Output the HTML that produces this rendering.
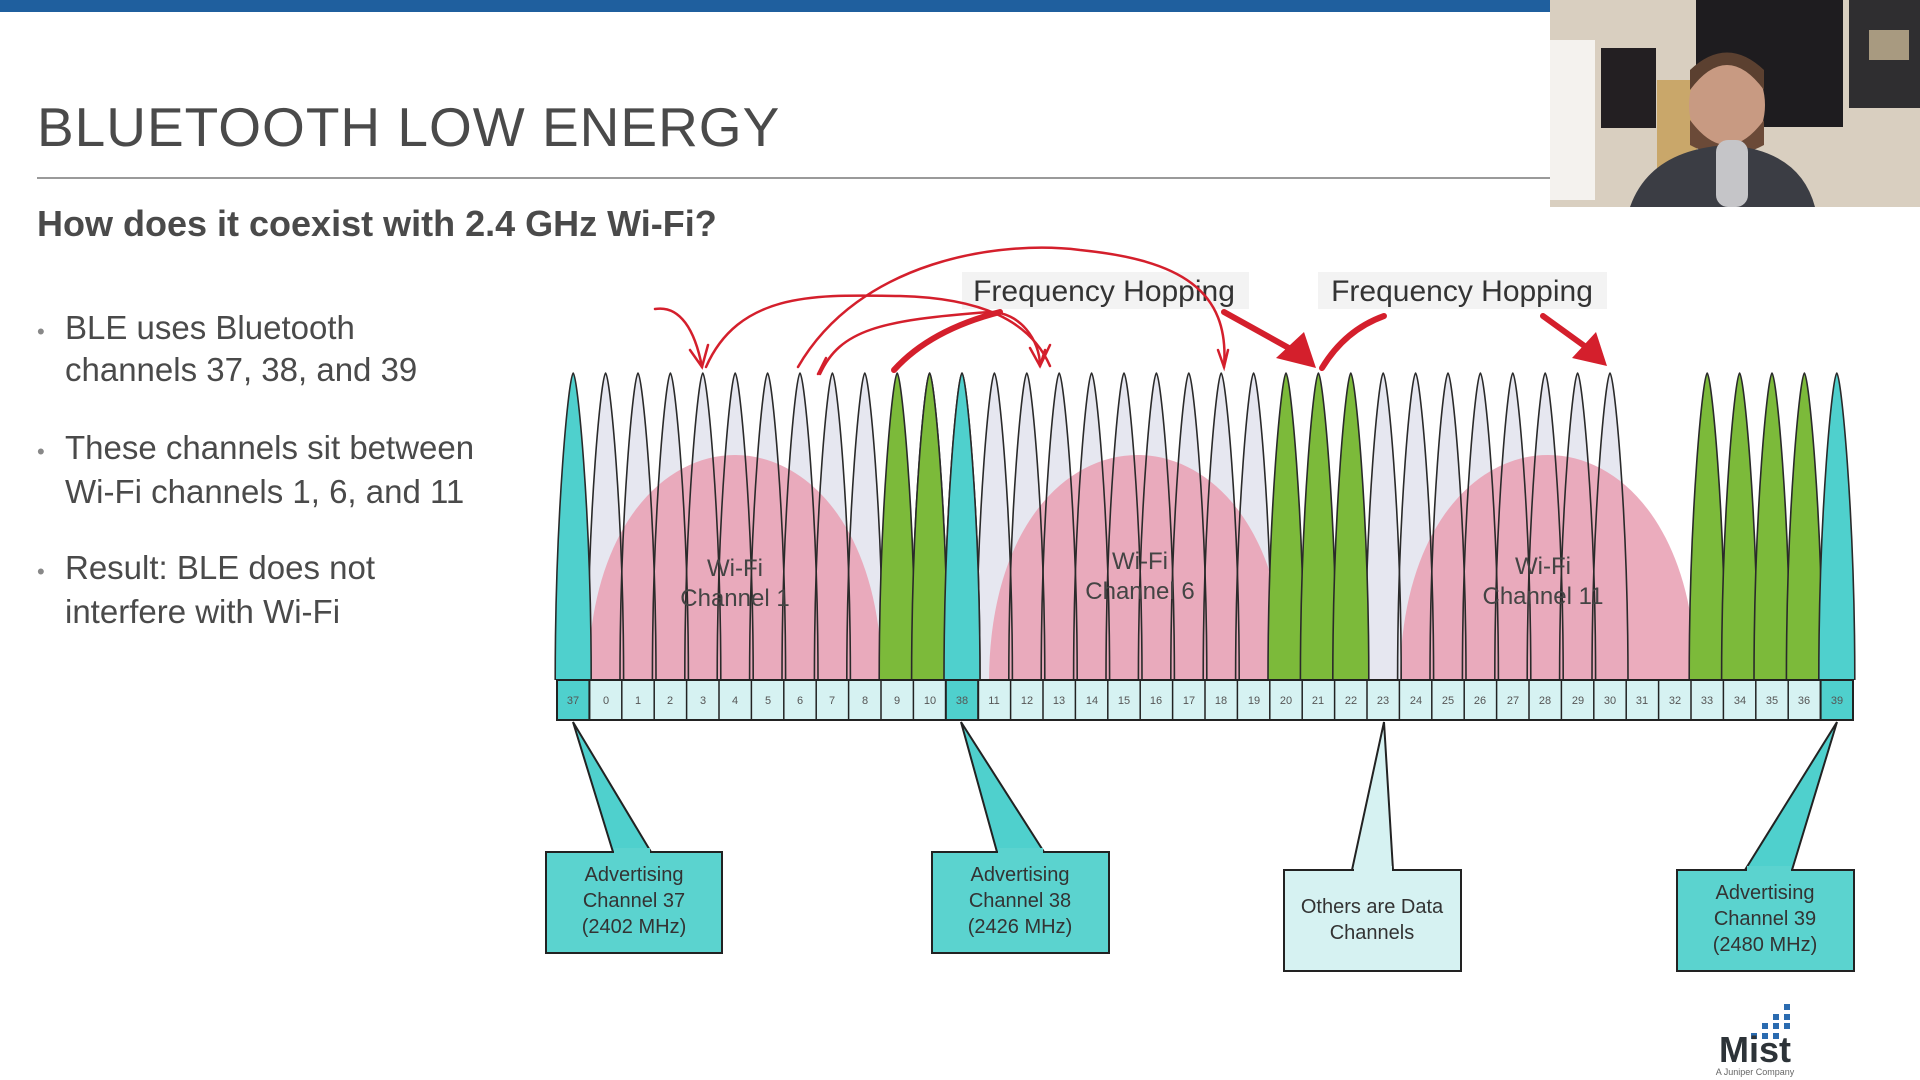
<!DOCTYPE html>
<html><head><meta charset="utf-8"><style>
html,body{margin:0;padding:0;width:1920px;height:1080px;overflow:hidden;background:#fff;font-family:"Liberation Sans",sans-serif}
</style></head><body>
<svg width="1920" height="1080" viewBox="0 0 1920 1080" xmlns="http://www.w3.org/2000/svg" style="position:absolute;left:0;top:0">
<defs>
<path id="lb" d="M-18,0 C-18,-170 -4,-307 0,-307 C4,-307 18,-170 18,0"/>
</defs>
<rect x="0" y="0" width="1550" height="12" fill="#1f5f9e"/>
<text x="37" y="146" font-size="55" fill="#4a4a4a" style="letter-spacing:1px">BLUETOOTH LOW ENERGY</text>
<rect x="37" y="177" width="1513" height="2" fill="#9a9a9a"/>
<text x="37" y="236" font-size="36" font-weight="bold" fill="#4a4a4a">How does it coexist with 2.4 GHz Wi-Fi?</text>
<g font-size="33" fill="#4a4a4a">
<text x="37" y="339" font-size="22" fill="#888">•</text><text x="65" y="339">BLE uses Bluetooth</text><text x="65" y="381">channels 37, 38, and 39</text>
<text x="37" y="459" font-size="22" fill="#888">•</text><text x="65" y="459">These channels sit between</text><text x="65" y="503">Wi-Fi channels 1, 6, and 11</text>
<text x="37" y="579" font-size="22" fill="#888">•</text><text x="65" y="579">Result: BLE does not</text><text x="65" y="623">interfere with Wi-Fi</text>
</g>
<g transform="translate(0,680)" fill="#e6e7f0" stroke="none">
<use href="#lb" x="605.6"/><use href="#lb" x="638"/><use href="#lb" x="670.4"/><use href="#lb" x="702.8"/><use href="#lb" x="735.2"/><use href="#lb" x="767.6"/><use href="#lb" x="800"/><use href="#lb" x="832.4"/><use href="#lb" x="864.8"/>
<use href="#lb" x="994.4"/><use href="#lb" x="1026.8"/><use href="#lb" x="1059.2"/><use href="#lb" x="1091.6"/><use href="#lb" x="1124"/><use href="#lb" x="1156.4"/><use href="#lb" x="1188.8"/><use href="#lb" x="1221.2"/><use href="#lb" x="1253.6"/>
<use href="#lb" x="1383.2"/><use href="#lb" x="1415.6"/><use href="#lb" x="1448"/><use href="#lb" x="1480.4"/><use href="#lb" x="1512.8"/><use href="#lb" x="1545.2"/><use href="#lb" x="1577.6"/><use href="#lb" x="1610"/><use href="#lb" x="962"/><use href="#lb" x="929.6"/>
</g>
<g fill="#e9a3b6" opacity="0.9">
<path d="M588,680 C590,380 880,380 882,680 Z"/>
<path d="M989,680 C991,380 1284,380 1286,680 Z"/>
<path d="M1400,680 C1402,380 1694,380 1696,680 Z"/>
</g>
<g transform="translate(0,680)" fill="none" stroke="#2a2a2a" stroke-width="1.6">
<use href="#lb" x="605.6"/><use href="#lb" x="638"/><use href="#lb" x="670.4"/><use href="#lb" x="702.8"/><use href="#lb" x="735.2"/><use href="#lb" x="767.6"/><use href="#lb" x="800"/><use href="#lb" x="832.4"/><use href="#lb" x="864.8"/>
<use href="#lb" x="929.6"/><use href="#lb" x="962"/><use href="#lb" x="994.4"/><use href="#lb" x="1026.8"/><use href="#lb" x="1059.2"/><use href="#lb" x="1091.6"/><use href="#lb" x="1124"/><use href="#lb" x="1156.4"/><use href="#lb" x="1188.8"/><use href="#lb" x="1221.2"/><use href="#lb" x="1253.6"/>
<use href="#lb" x="1383.2"/><use href="#lb" x="1415.6"/><use href="#lb" x="1448"/><use href="#lb" x="1480.4"/><use href="#lb" x="1512.8"/><use href="#lb" x="1545.2"/><use href="#lb" x="1577.6"/><use href="#lb" x="1610"/>
</g>
<g transform="translate(0,680)" stroke="#2a2a2a" stroke-width="1.6">
<use href="#lb" x="897.2" fill="#7cba3a"/><use href="#lb" x="929.6" fill="#7cba3a"/>
<use href="#lb" x="1286" fill="#7cba3a"/><use href="#lb" x="1318.4" fill="#7cba3a"/><use href="#lb" x="1350.8" fill="#7cba3a"/>
<use href="#lb" x="1707.2" fill="#7cba3a"/><use href="#lb" x="1739.6" fill="#7cba3a"/><use href="#lb" x="1772" fill="#7cba3a"/><use href="#lb" x="1804.4" fill="#7cba3a"/>
<use href="#lb" x="573.2" fill="#4fd0cd"/><use href="#lb" x="962" fill="#4fd0cd"/><use href="#lb" x="1836.8" fill="#4fd0cd"/>
</g>
<text x="735" y="576" font-size="24" fill="#444" text-anchor="middle">Wi-Fi</text><text x="735" y="606" font-size="24" fill="#444" text-anchor="middle">Channel 1</text>
<text x="1140" y="569" font-size="24" fill="#444" text-anchor="middle">Wi-Fi</text><text x="1140" y="599" font-size="24" fill="#444" text-anchor="middle">Channel 6</text>
<text x="1543" y="574" font-size="24" fill="#444" text-anchor="middle">Wi-Fi</text><text x="1543" y="604" font-size="24" fill="#444" text-anchor="middle">Channel 11</text>
<rect x="557" y="680" width="1296" height="40" fill="#d6f2f2" stroke="#222" stroke-width="2"/>
<rect x="557" y="680" width="32.4" height="40" fill="#4fd0cd" stroke="#222" stroke-width="2"/>
<rect x="945.8" y="680" width="32.4" height="40" fill="#4fd0cd" stroke="#222" stroke-width="2"/>
<rect x="1820.6" y="680" width="32.4" height="40" fill="#4fd0cd" stroke="#222" stroke-width="2"/>
<g stroke="#222" stroke-width="1.5">
<path d="M589.4,680v40M621.8,680v40M654.2,680v40M686.6,680v40M719,680v40M751.4,680v40M783.8,680v40M816.2,680v40M848.6,680v40M881,680v40M913.4,680v40M945.8,680v40M978.2,680v40M1010.6,680v40M1043,680v40M1075.4,680v40M1107.8,680v40M1140.2,680v40M1172.6,680v40M1205,680v40M1237.4,680v40M1269.8,680v40M1302.2,680v40M1334.6,680v40M1367,680v40M1399.4,680v40M1431.8,680v40M1464.2,680v40M1496.6,680v40M1529,680v40M1561.4,680v40M1593.8,680v40M1626.2,680v40M1658.6,680v40M1691,680v40M1723.4,680v40M1755.8,680v40M1788.2,680v40M1820.6,680v40"/>
</g>
<g font-size="11" fill="#555" text-anchor="middle">
<text x="573" y="704">37</text><text x="606" y="704">0</text><text x="638" y="704">1</text><text x="670" y="704">2</text><text x="703" y="704">3</text><text x="735" y="704">4</text><text x="768" y="704">5</text><text x="800" y="704">6</text><text x="832" y="704">7</text><text x="865" y="704">8</text><text x="897" y="704">9</text><text x="930" y="704">10</text><text x="962" y="704">38</text><text x="994" y="704">11</text><text x="1027" y="704">12</text><text x="1059" y="704">13</text><text x="1092" y="704">14</text><text x="1124" y="704">15</text><text x="1156" y="704">16</text><text x="1189" y="704">17</text><text x="1221" y="704">18</text><text x="1254" y="704">19</text><text x="1286" y="704">20</text><text x="1318" y="704">21</text><text x="1351" y="704">22</text><text x="1383" y="704">23</text><text x="1416" y="704">24</text><text x="1448" y="704">25</text><text x="1480" y="704">26</text><text x="1513" y="704">27</text><text x="1545" y="704">28</text><text x="1578" y="704">29</text><text x="1610" y="704">30</text><text x="1642" y="704">31</text><text x="1675" y="704">32</text><text x="1707" y="704">33</text><text x="1740" y="704">34</text><text x="1772" y="704">35</text><text x="1804" y="704">36</text><text x="1837" y="704">39</text>
</g>
<g stroke="#222" stroke-width="2">
<path d="M573,722 L613,852 L651,852 Z" fill="#4fd0cd"/>
<rect x="546" y="852" width="176" height="101" fill="#5bd3cf"/>
<path d="M961,722 L997,852 L1044,852 Z" fill="#4fd0cd"/>
<rect x="932" y="852" width="177" height="101" fill="#5bd3cf"/>
<path d="M1384,722 L1352,870 L1393,870 Z" fill="#d6f2f2"/>
<rect x="1284" y="870" width="177" height="101" fill="#d6f2f2"/>
<path d="M1837,722 L1745,870 L1792,870 Z" fill="#4fd0cd"/>
<rect x="1677" y="870" width="177" height="101" fill="#5bd3cf"/>
</g>
<rect x="614" y="848" width="36" height="6" fill="#5bd3cf"/><rect x="998" y="848" width="45" height="6" fill="#5bd3cf"/><rect x="1354" y="866" width="38" height="6" fill="#d6f2f2"/><rect x="1747" y="866" width="44" height="6" fill="#5bd3cf"/>
<g font-size="20" fill="#333" text-anchor="middle">
<text x="634" y="881">Advertising</text><text x="634" y="907">Channel 37</text><text x="634" y="933">(2402 MHz)</text>
<text x="1020" y="881">Advertising</text><text x="1020" y="907">Channel 38</text><text x="1020" y="933">(2426 MHz)</text>
<text x="1372" y="913">Others are Data</text><text x="1372" y="939">Channels</text>
<text x="1765" y="899">Advertising</text><text x="1765" y="925">Channel 39</text><text x="1765" y="951">(2480 MHz)</text>
</g>
<rect x="962" y="272" width="287" height="37" fill="#f3f3f3"/>
<rect x="1318" y="272" width="289" height="37" fill="#f3f3f3"/>
<text x="1104" y="301" font-size="30" fill="#333" text-anchor="middle">Frequency Hopping</text>
<text x="1462" y="301" font-size="30" fill="#333" text-anchor="middle">Frequency Hopping</text>
<g fill="none" stroke="#d41f2c" stroke-width="2.5" stroke-linecap="round">
<path d="M655,309 C680,305 695,330 702,367"/><path d="M690,350 L702,367 L708,345"/>
<path d="M706,367 C740,290 820,295 900,296 C980,298 1030,320 1050,366"/><path d="M1030,348 L1040,366 L1050,345 M1040,366 L1045,350"/>
<path d="M798,367 C860,260 1000,240 1080,250 C1180,260 1230,290 1224,367"/><path d="M1218,350 L1224,367 L1228,350"/>
<path d="M820,374 C840,330 880,320 990,312 C1020,312 1040,340 1040,366"/><path d="M818,374 L826,358"/>
</g>
<g fill="none" stroke="#d41f2c" stroke-width="6" stroke-linecap="round">
<path d="M894,370 Q930,330 1000,312"/>
<path d="M1224,312 L1296,352"/>
<path d="M1322,368 Q1345,330 1384,316"/>
<path d="M1543,316 L1590,350"/>
</g>
<path d="M1316,368 L1276,358 L1304,332 Z" fill="#d41f2c"/>
<path d="M1607,366 L1572,358 L1596,332 Z" fill="#d41f2c"/>
<rect x="1550" y="0" width="370" height="207" fill="#d9cfc0"/>
<rect x="1550" y="40" width="45" height="160" fill="#f4f2ee"/>
<rect x="1601" y="48" width="55" height="80" fill="#231f22"/>
<rect x="1657" y="80" width="40" height="125" fill="#c9a76a"/>
<rect x="1696" y="0" width="147" height="127" fill="#1e1c1f"/>
<rect x="1849" y="0" width="71" height="108" fill="#2f2e30"/>
<rect x="1869" y="30" width="40" height="30" fill="#a89a80"/>
<ellipse cx="1727" cy="105" rx="38" ry="50" fill="#c89a82"/>
<path d="M1690,90 Q1727,40 1764,90 L1764,70 Q1727,35 1690,70 Z" fill="#5b4030"/>
<path d="M1690,120 Q1727,170 1764,120 L1764,145 Q1727,165 1690,145 Z" fill="#6b4a38"/>
<path d="M1630,207 Q1650,150 1727,145 Q1800,150 1815,207 Z" fill="#3b3d44"/>
<rect x="1716" y="140" width="32" height="67" rx="12" fill="#c5c5c8"/>
<g fill="#2a6bb0">
<rect x="1784" y="1004" width="6" height="6"/><rect x="1773" y="1014" width="6" height="6"/><rect x="1784" y="1014" width="6" height="6"/><rect x="1762" y="1023" width="6" height="6"/><rect x="1773" y="1023" width="6" height="6"/><rect x="1784" y="1023" width="6" height="6"/><rect x="1751" y="1033" width="6" height="6"/><rect x="1762" y="1033" width="6" height="6"/><rect x="1773" y="1033" width="6" height="6"/>
</g>
<text x="1755" y="1062" font-size="36" font-weight="bold" fill="#2d3338" text-anchor="middle">Mist</text>
<text x="1755" y="1075" font-size="9" fill="#666" text-anchor="middle">A Juniper Company</text>
</svg>
</body></html>
